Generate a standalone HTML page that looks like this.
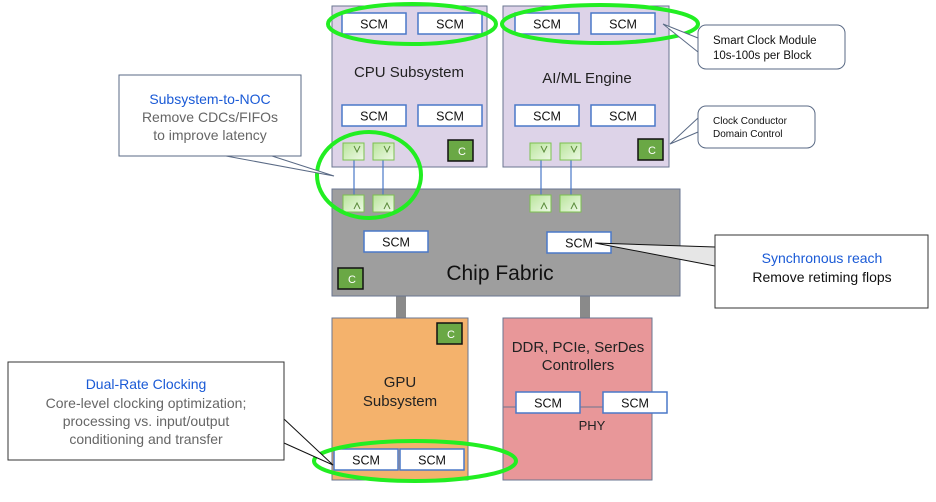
<!DOCTYPE html>
<html><head><meta charset="utf-8"><style>
html,body{margin:0;padding:0;background:#fff;}
svg{display:block;font-family:"Liberation Sans",sans-serif;}
</style></head><body>
<svg width="936" height="502" viewBox="0 0 936 502" xmlns="http://www.w3.org/2000/svg">
<defs>
<linearGradient id="fg" x1="0" y1="0" x2="1" y2="1"><stop offset="0" stop-color="#b8e49a"/><stop offset="1" stop-color="#eef9e6"/></linearGradient>
<g id="scm"><rect x="0" y="0" width="64" height="21" fill="#fff" stroke="#4a78c8" stroke-width="1.5"/><text x="32" y="15.5" font-size="12.5" text-anchor="middle" fill="#111">SCM</text></g>
<g id="c"><rect x="0" y="0" width="25" height="21" fill="#6aa845" stroke="#111" stroke-width="1.5"/><text x="14" y="15" font-size="11" text-anchor="middle" fill="#fff">C</text></g>
<g id="fd"><rect x="0" y="0" width="21" height="17" fill="url(#fg)" stroke="#7cc050" stroke-width="1"/><path d="M11 3 L14 9 L17 3" fill="none" stroke="#5a8a3a" stroke-width="1"/></g>
<g id="fu"><rect x="0" y="0" width="21" height="17" fill="url(#fg)" stroke="#7cc050" stroke-width="1"/><path d="M11 14 L14 8 L17 14" fill="none" stroke="#5a8a3a" stroke-width="1"/></g>
</defs>

<!-- connectors -->
<rect x="396" y="296" width="10" height="22" fill="#8a8a8a"/>
<rect x="580" y="296" width="10" height="22" fill="#8a8a8a"/>

<!-- CPU -->
<rect x="332" y="6" width="155" height="161" fill="#ddd3e8" stroke="#6a7690" stroke-width="1"/>
<use href="#scm" x="342" y="13"/><use href="#scm" x="418" y="13"/>
<text x="409" y="77" font-size="15" text-anchor="middle" fill="#222">CPU Subsystem</text>
<use href="#scm" x="342" y="105"/><use href="#scm" x="418" y="105"/>
<use href="#c" x="448" y="140"/>

<!-- AI -->
<rect x="503" y="6" width="166" height="161" fill="#ddd3e8" stroke="#6a7690" stroke-width="1"/>
<use href="#scm" x="515" y="13"/><use href="#scm" x="591" y="13"/>
<text x="587" y="83" font-size="15" text-anchor="middle" fill="#222">AI/ML Engine</text>
<use href="#scm" x="515" y="105"/><use href="#scm" x="591" y="105"/>
<use href="#c" x="638" y="139"/>

<!-- fabric -->
<rect x="332" y="189" width="348" height="107" fill="#9e9e9e" stroke="#6a7690" stroke-width="1"/>
<use href="#scm" x="364" y="231"/><use href="#scm" x="547" y="232"/>
<use href="#c" x="338" y="268"/>
<text x="500" y="280" font-size="21" text-anchor="middle" fill="#111">Chip Fabric</text>

<!-- flop links -->
<g stroke="#4a78c8" stroke-width="1.2">
<line x1="354" y1="160" x2="354" y2="195"/><line x1="383" y1="160" x2="383" y2="195"/>
<line x1="541" y1="160" x2="541" y2="195"/><line x1="571" y1="160" x2="571" y2="195"/>
</g>
<use href="#fd" x="343" y="143"/><use href="#fd" x="373" y="143"/>
<use href="#fd" x="530" y="143"/><use href="#fd" x="560" y="143"/>
<use href="#fu" x="343" y="195"/><use href="#fu" x="373" y="195"/>
<use href="#fu" x="530" y="195"/><use href="#fu" x="560" y="195"/>

<!-- GPU -->
<rect x="332" y="318" width="136" height="162" fill="#f4b26c" stroke="#6a7690" stroke-width="1"/>
<use href="#c" x="437" y="323"/>
<text x="400" y="387" font-size="15" text-anchor="middle" fill="#222">GPU</text>
<text x="400" y="406" font-size="15" text-anchor="middle" fill="#222">Subsystem</text>
<use href="#scm" x="334" y="449"/><use href="#scm" x="400" y="449"/>

<!-- DDR -->
<rect x="503" y="318" width="149" height="162" fill="#e89799" stroke="#6a7690" stroke-width="1"/>
<text x="578" y="352" font-size="15" text-anchor="middle" fill="#222">DDR, PCIe, SerDes</text>
<text x="578" y="370" font-size="15" text-anchor="middle" fill="#222">Controllers</text>
<line x1="503" y1="407" x2="652" y2="407" stroke="#6a7690" stroke-width="1"/>
<use href="#scm" x="516" y="392"/><use href="#scm" x="603" y="392"/>
<text x="592" y="430" font-size="13" text-anchor="middle" fill="#222">PHY</text>

<!-- green ellipses -->
<g fill="none" stroke="#22ee22" stroke-width="4">
<ellipse cx="412" cy="24" rx="84" ry="20"/>
<ellipse cx="600" cy="24" rx="98" ry="19"/>
<ellipse cx="369" cy="175" rx="52" ry="43"/>
<ellipse cx="415" cy="461" rx="101" ry="20"/>
</g>

<!-- callouts -->
<path d="M698 38 L663 24 L698 52" fill="#fff" stroke="#5a6a85" stroke-width="1"/>
<rect x="698" y="25" width="147" height="44" rx="8" fill="#fff" stroke="#5a6a85" stroke-width="1"/>
<text x="713" y="44" font-size="11.5" fill="#111">Smart Clock Module</text>
<text x="713" y="59" font-size="11.5" fill="#111">10s-100s per Block</text>

<path d="M698 118 L670 144 L698 132" fill="#fff" stroke="#5a6a85" stroke-width="1"/>
<rect x="698" y="106" width="117" height="42" rx="8" fill="#fff" stroke="#5a6a85" stroke-width="1"/>
<text x="713" y="124" font-size="10" fill="#111">Clock Conductor</text>
<text x="713" y="137" font-size="10" fill="#111">Domain Control</text>

<path d="M715 247 L595 243 L715 266 Z" fill="#e6e6e6" stroke="#111" stroke-width="1"/>
<rect x="715" y="235" width="213" height="73" fill="#fff" stroke="#333" stroke-width="1"/>
<text x="822" y="263" font-size="14" text-anchor="middle" fill="#1a5ad6">Synchronous reach</text>
<text x="822" y="282" font-size="14" text-anchor="middle" fill="#111">Remove retiming flops</text>

<path d="M226 156 L334 176 L272 156" fill="#fff" stroke="#5a6a85" stroke-width="1"/>
<rect x="119" y="75" width="182" height="81" fill="#fff" stroke="#5a6a85" stroke-width="1"/>
<text x="210" y="104" font-size="14" text-anchor="middle" fill="#1a5ad6">Subsystem-to-NOC</text>
<text x="210" y="122" font-size="14" text-anchor="middle" fill="#666">Remove CDCs/FIFOs</text>
<text x="210" y="140" font-size="14" text-anchor="middle" fill="#666">to improve latency</text>

<path d="M284 419 L333 465 L284 443" fill="#fff" stroke="#111" stroke-width="1"/>
<rect x="8" y="362" width="276" height="98" fill="#fff" stroke="#333" stroke-width="1"/>
<text x="146" y="389" font-size="14" text-anchor="middle" fill="#1a5ad6">Dual-Rate Clocking</text>
<text x="146" y="408" font-size="14" text-anchor="middle" fill="#666">Core-level clocking optimization;</text>
<text x="146" y="426" font-size="14" text-anchor="middle" fill="#666">processing vs. input/output</text>
<text x="146" y="444" font-size="14" text-anchor="middle" fill="#666">conditioning and transfer</text>
</svg>
</body></html>
